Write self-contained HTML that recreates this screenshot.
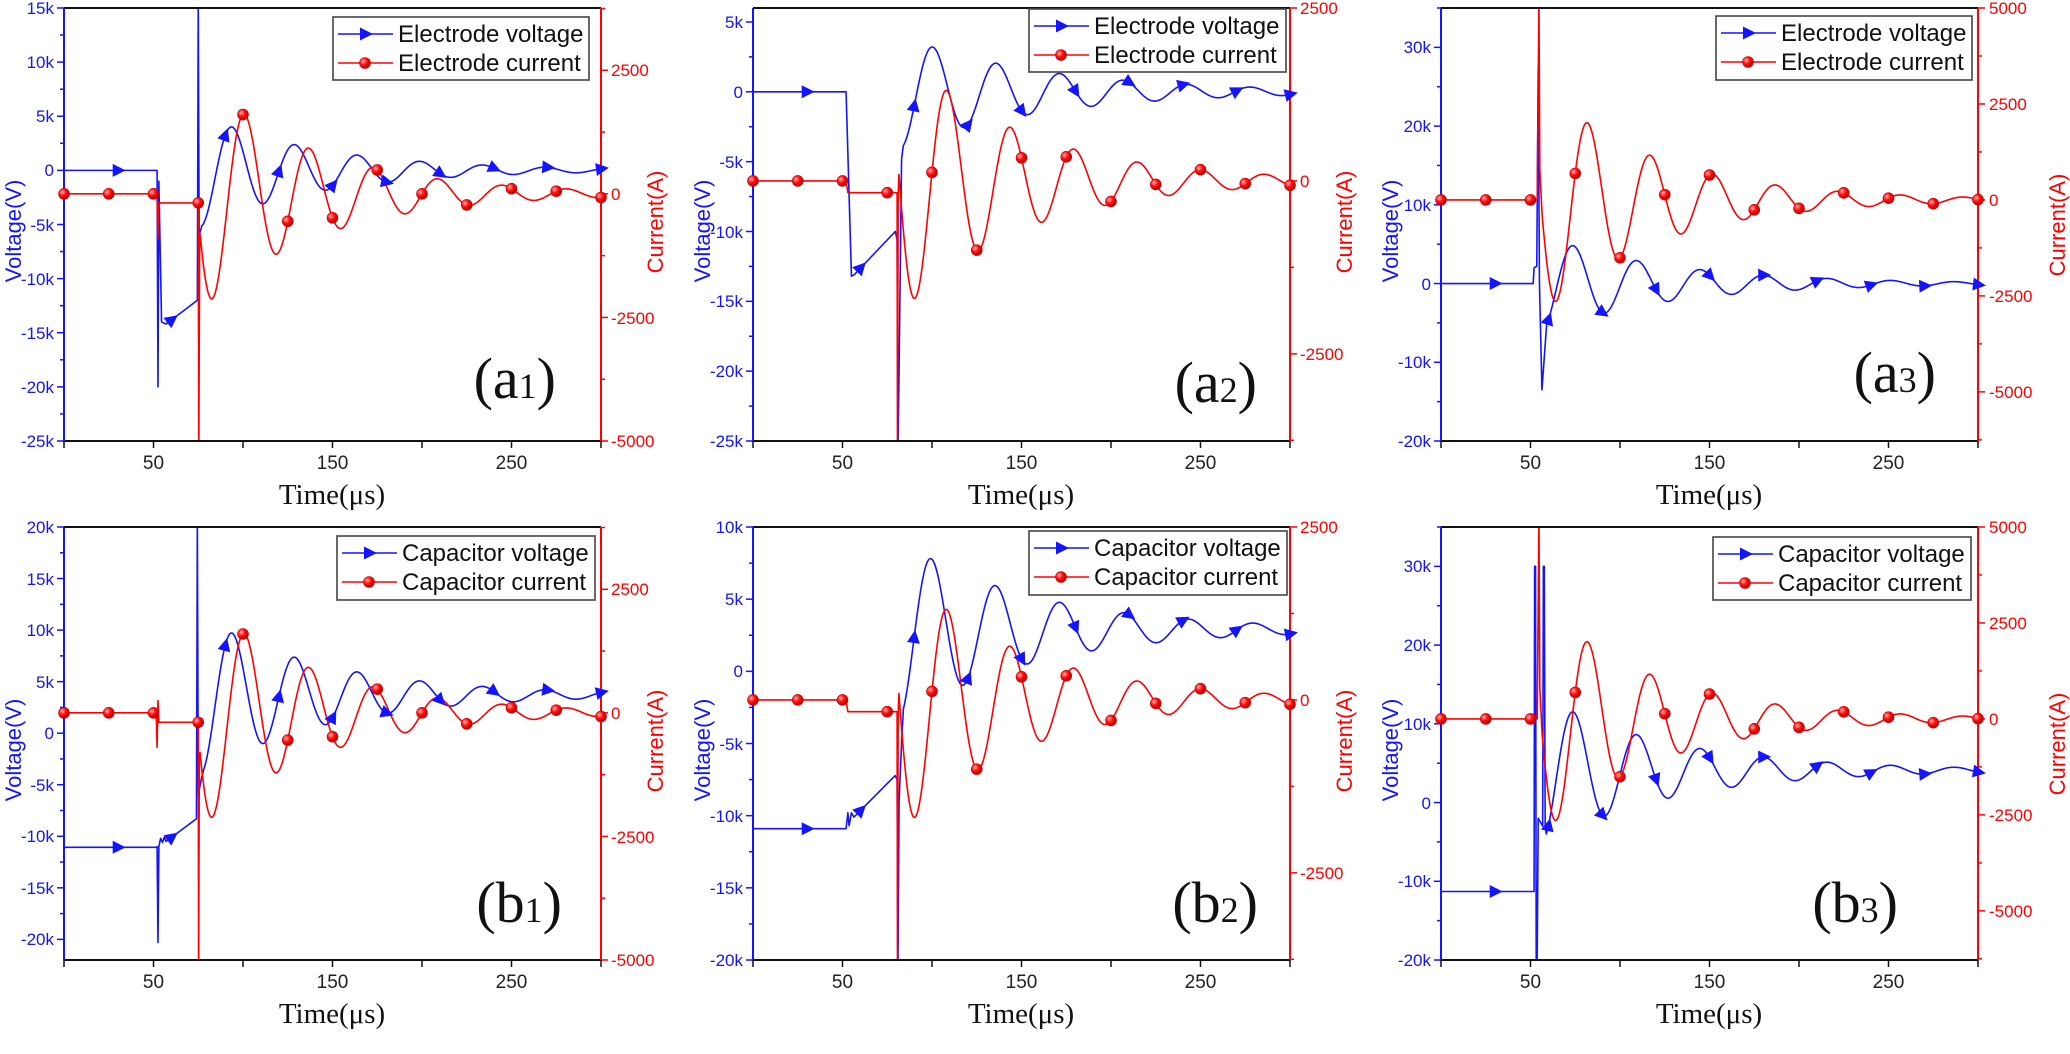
<!DOCTYPE html>
<html><head><meta charset="utf-8">
<style>
html,body{margin:0;padding:0;background:#fff;}
svg{display:block;}
text{font-family:"Liberation Sans",Arial,sans-serif;}
.lt{font-size:17px;fill:#1414ff;text-anchor:end;}
.rt{font-size:17px;fill:#ff0000;text-anchor:start;}
.bt{font-size:19px;fill:#222;text-anchor:middle;}
.tm{font-family:"Liberation Serif",serif;font-size:29px;fill:#111;text-anchor:middle;}
.vl{font-size:22px;fill:#1414ff;text-anchor:middle;}
.cl{font-size:22px;fill:#ff0000;text-anchor:middle;}
.lg{font-size:24px;fill:#111;}
.pl{font-family:"Liberation Serif",serif;font-size:58px;fill:#111;text-anchor:end;}
</style></head>
<body>
<svg id="s" width="2070" height="1054" viewBox="0 0 2070 1054" xmlns="http://www.w3.org/2000/svg">
<defs>
<radialGradient id="rb" cx="0.35" cy="0.35" r="0.7"><stop offset="0" stop-color="#ffb0b0"/><stop offset="0.45" stop-color="#ff1010"/><stop offset="1" stop-color="#b00000"/></radialGradient>
</defs>
<g id="g"></g>
<text class="lt" x="54" y="14">15k</text><text class="lt" x="54" y="68">10k</text><text class="lt" x="54" y="122">5k</text><text class="lt" x="54" y="176">0</text><text class="lt" x="54" y="231">-5k</text><text class="lt" x="54" y="285">-10k</text><text class="lt" x="54" y="339">-15k</text><text class="lt" x="54" y="393">-20k</text><text class="lt" x="54" y="447">-25k</text>
<text class="lt" x="743" y="28">5k</text><text class="lt" x="743" y="98">0</text><text class="lt" x="743" y="168">-5k</text><text class="lt" x="743" y="238">-10k</text><text class="lt" x="743" y="307">-15k</text><text class="lt" x="743" y="377">-20k</text><text class="lt" x="743" y="447">-25k</text>
<text class="lt" x="1431" y="53">30k</text><text class="lt" x="1431" y="132">20k</text><text class="lt" x="1431" y="211">10k</text><text class="lt" x="1431" y="290">0</text><text class="lt" x="1431" y="368">-10k</text><text class="lt" x="1431" y="447">-20k</text>
<text class="lt" x="54" y="533">20k</text><text class="lt" x="54" y="585">15k</text><text class="lt" x="54" y="636">10k</text><text class="lt" x="54" y="688">5k</text><text class="lt" x="54" y="739">0</text><text class="lt" x="54" y="791">-5k</text><text class="lt" x="54" y="842">-10k</text><text class="lt" x="54" y="894">-15k</text><text class="lt" x="54" y="945">-20k</text>
<text class="lt" x="743" y="533">10k</text><text class="lt" x="743" y="605">5k</text><text class="lt" x="743" y="677">0</text><text class="lt" x="743" y="750">-5k</text><text class="lt" x="743" y="822">-10k</text><text class="lt" x="743" y="894">-15k</text><text class="lt" x="743" y="966">-20k</text>
<text class="lt" x="1431" y="572">30k</text><text class="lt" x="1431" y="651">20k</text><text class="lt" x="1431" y="730">10k</text><text class="lt" x="1431" y="809">0</text><text class="lt" x="1431" y="887">-10k</text><text class="lt" x="1431" y="966">-20k</text>
<text class="rt" x="611" y="76">2500</text><text class="rt" x="611" y="200">0</text><text class="rt" x="611" y="324">-2500</text><text class="rt" x="611" y="447">-5000</text>
<text class="rt" x="1300" y="14">2500</text><text class="rt" x="1300" y="187">0</text><text class="rt" x="1300" y="360">-2500</text>
<text class="rt" x="1989" y="14">5000</text><text class="rt" x="1989" y="110">2500</text><text class="rt" x="1989" y="206">0</text><text class="rt" x="1989" y="302">-2500</text><text class="rt" x="1989" y="398">-5000</text>
<text class="rt" x="611" y="595">2500</text><text class="rt" x="611" y="719">0</text><text class="rt" x="611" y="843">-2500</text><text class="rt" x="611" y="966">-5000</text>
<text class="rt" x="1300" y="533">2500</text><text class="rt" x="1300" y="706">0</text><text class="rt" x="1300" y="879">-2500</text>
<text class="rt" x="1989" y="533">5000</text><text class="rt" x="1989" y="629">2500</text><text class="rt" x="1989" y="725">0</text><text class="rt" x="1989" y="821">-2500</text><text class="rt" x="1989" y="917">-5000</text>
<text class="bt" x="153.5" y="469">50</text><text class="bt" x="332.5" y="469">150</text><text class="bt" x="511.5" y="469">250</text>
<text class="bt" x="842.5" y="469">50</text><text class="bt" x="1021.5" y="469">150</text><text class="bt" x="1200.5" y="469">250</text>
<text class="bt" x="1530.5" y="469">50</text><text class="bt" x="1709.5" y="469">150</text><text class="bt" x="1888.5" y="469">250</text>
<text class="bt" x="153.5" y="988">50</text><text class="bt" x="332.5" y="988">150</text><text class="bt" x="511.5" y="988">250</text>
<text class="bt" x="842.5" y="988">50</text><text class="bt" x="1021.5" y="988">150</text><text class="bt" x="1200.5" y="988">250</text>
<text class="bt" x="1530.5" y="988">50</text><text class="bt" x="1709.5" y="988">150</text><text class="bt" x="1888.5" y="988">250</text>
<text class="tm" x="332" y="504">Time(μs)</text><text class="tm" x="1021" y="504">Time(μs)</text><text class="tm" x="1709" y="504">Time(μs)</text>
<text class="tm" x="332" y="1023">Time(μs)</text><text class="tm" x="1021" y="1023">Time(μs)</text><text class="tm" x="1709" y="1023">Time(μs)</text>
<text class="vl" transform="translate(21,231) rotate(-90)">Voltage(V)</text>
<text class="vl" transform="translate(710,231) rotate(-90)">Voltage(V)</text>
<text class="vl" transform="translate(1398,231) rotate(-90)">Voltage(V)</text>
<text class="vl" transform="translate(21,750) rotate(-90)">Voltage(V)</text>
<text class="vl" transform="translate(710,750) rotate(-90)">Voltage(V)</text>
<text class="vl" transform="translate(1398,750) rotate(-90)">Voltage(V)</text>
<text class="cl" transform="translate(663,222) rotate(-90)">Current(A)</text>
<text class="cl" transform="translate(1352,222) rotate(-90)">Current(A)</text>
<text class="cl" transform="translate(2065,225) rotate(-90)">Current(A)</text>
<text class="cl" transform="translate(663,741) rotate(-90)">Current(A)</text>
<text class="cl" transform="translate(1352,741) rotate(-90)">Current(A)</text>
<text class="cl" transform="translate(2065,744) rotate(-90)">Current(A)</text>
<g id="leg"></g>
<text class="lg" x="398" y="42">Electrode voltage</text><text class="lg" x="398" y="71">Electrode current</text>
<text class="lg" x="1094" y="34">Electrode voltage</text><text class="lg" x="1094" y="63">Electrode current</text>
<text class="lg" x="1781" y="41">Electrode voltage</text><text class="lg" x="1781" y="70">Electrode current</text>
<text class="lg" x="402" y="561">Capacitor voltage</text><text class="lg" x="402" y="590">Capacitor current</text>
<text class="lg" x="1094" y="556">Capacitor voltage</text><text class="lg" x="1094" y="585">Capacitor current</text>
<text class="lg" x="1778" y="562">Capacitor voltage</text><text class="lg" x="1778" y="591">Capacitor current</text>
<text class="pl" x="556" y="398">(a<tspan font-size="36">1</tspan>)</text>
<text class="pl" x="1257" y="402">(a<tspan font-size="36">2</tspan>)</text>
<text class="pl" x="1936" y="392">(a<tspan font-size="36">3</tspan>)</text>
<text class="pl" x="562" y="922">(b<tspan font-size="36">1</tspan>)</text>
<text class="pl" x="1258" y="922">(b<tspan font-size="36">2</tspan>)</text>
<text class="pl" x="1898" y="922">(b<tspan font-size="36">3</tspan>)</text>
</svg>
<script>
(function(){
const NS="http://www.w3.org/2000/svg";
const g=document.getElementById('g'), lg=document.getElementById('leg');
const W=537,H=433,cols=[64,753,1441],rows=[8,527];
const BL="#1414ff",RD="#ff0000";
function el(p,n,a){const e=document.createElementNS(NS,n);for(const k in a)e.setAttribute(k,a[k]);p.appendChild(e);return e;}
function S(){const p=[];return{p,add(t,v){p.push([t,v]);return this;},fn(a,b,f){for(let t=a;t<=b+1e-9;t+=0.25)p.push([t,f(t)]);return this;}};}
const ring=(tp,A,P,tau,off)=>t=>(off||0)+A*Math.exp(-(t-tp)/tau)*Math.cos(2*Math.PI*(t-tp)/P);
const lin=(t0,v0,t1,v1)=>t=>v0+(v1-v0)*(t-t0)/(t1-t0);
function interp(p,t){for(let i=p.length-1;i>0;i--){if(p[i-1][0]<=t&&p[i][0]>=t){const a=p[i-1],b=p[i];if(b[0]===a[0])return b[1];return a[1]+(b[1]-a[1])*(t-a[0])/(b[0]-a[0]);}}return p[p.length-1][1];}

const cur1=()=>{const s=S();s.fn(0,52,()=>0).add(52.5,-900).add(53,-183).fn(53.25,75,()=>-183).add(75.3,-5300).add(75.8,-800).fn(76,300,ring(101,1605,36,65));return s.p;};
const cur1b=()=>{const s=S();s.fn(0,51.5,()=>0).add(52,-700).add(52.5,250).add(53,-190).fn(53.25,75,()=>-190).add(75.2,-5300).add(75.6,-900).fn(76,300,ring(101,1595,36,65));return s.p;};
const cur2=()=>{const s=S();s.fn(0,52,()=>0).add(53,-170).fn(53.25,80.5,()=>-170).add(80.7,-3900).add(81.1,-200).fn(81.5,300,ring(108.4,1304,35.5,68));return s.p;};
const cur3=()=>{const s=S();s.fn(0,53.75,()=>0).add(54.3,3000).add(54.7,5300).add(55.2,800).fn(56.5,300,ring(82,2005,35,64));return s.p;};

const P=[
 {c:0,r:0,v:[-25000,15000],vm:5000,vn:2500,i:[-5000,3760],
  V:()=>{const s=S();s.fn(0,52,()=>0).add(52.5,-20000).add(53,-1000).add(54.5,-14000).add(57,-14200).fn(57.25,74.5,lin(57,-14200,74.5,-12000)).add(75,15800).add(75.5,-6000).fn(77,300,ring(94,4000,35,67));return s.p;},
  I:cur1, leg:[333,17,589,80]},
 {c:1,r:0,v:[-25000,6000],vm:5000,vn:2500,i:[-3760,2500],
  V:()=>{const s=S();s.fn(0,52,()=>0).add(55,-13200).add(56.5,-13100).fn(56.75,79.5,lin(56.5,-13100,79.5,-10000)).add(80.5,-10600).add(81,-25600).add(81.6,-20000).add(83,-4800).fn(84,300,ring(100.5,3200,35.5,79));return s.p;},
  I:cur2, leg:[1029,9,1286,72]},
 {c:2,r:0,v:[-20000,35000],vm:10000,vn:5000,i:[-6280,5000],
  V:()=>{const s=S();s.fn(0,51.5,()=>0).add(52,2000).add(53.5,2200).add(54.3,27500).add(55,0).add(56.4,-13500).fn(59,300,ring(74,4800,35.5,71));return s.p;},
  I:cur3, leg:[1716,16,1972,80]},
 {c:0,r:1,v:[-22000,20000],vm:5000,vn:2500,i:[-5000,3760],
  V:()=>{const s=S();s.fn(0,51.5,()=>-11070).add(52,-11000).add(52.5,-20300).add(53,-11000).add(54,-10200).add(55,-10600).add(56,-10100).add(57,-10500).fn(57.25,74,lin(57,-10500,74,-8300)).add(74.5,20800).add(75,-6000).add(77,-4200).fn(78,300,ring(94,6000,35,71,3700));return s.p;},
  I:cur1b, leg:[337,536,595,600]},
 {c:1,r:1,v:[-20000,10000],vm:5000,vn:2500,i:[-3760,2500],
  V:()=>{const s=S();s.fn(0,52,()=>-10900).add(53,-9800).add(53.7,-10700).add(55,-9800).add(56.4,-10100).fn(56.65,79.6,lin(56.4,-10100,79.6,-7200)).add(80.5,-7500).add(81,-20600).add(81.6,-9000).add(83,-5000).fn(84,300,ring(99.6,4900,36,75,2900));return s.p;},
  I:cur2, leg:[1029,531,1287,595]},
 {c:2,r:1,v:[-20000,35000],vm:10000,vn:5000,i:[-6280,5000],
  V:()=>{const s=S();s.fn(0,51.5,()=>-11300).add(52,-11300).add(52.3,30000).add(52.8,30000).add(53.2,-21000).add(53.7,-21000).add(54.3,-2000).add(56.8,-3000).add(57.2,30000).add(57.7,30000).add(58.2,-3000).add(58.8,-4000).fn(60,300,ring(74,7400,35.5,72,4100));return s.p;},
  I:cur3, leg:[1713,537,1971,600]}
];

function tri(parent,x,y,ang){const pts=[[8,0],[-5,-6.5],[-5,6.5]].map(([a,b])=>{const c=Math.cos(ang),s=Math.sin(ang);return (x+a*c-b*s).toFixed(1)+','+(y+a*s+b*c).toFixed(1);}).join(' ');el(parent,'polygon',{points:pts,fill:BL});}
function ball(parent,x,y){el(parent,'circle',{cx:x,cy:y,r:5.5,fill:'url(#rb)',stroke:'#d00000','stroke-width':0.6});}

P.forEach((p,k)=>{
 const X0=cols[p.c],Y0=rows[p.r],X1=X0+W,Y1=Y0+H;
 const X=t=>X0+t/300*W;
 const Yv=v=>Y0+(p.v[1]-v)/(p.v[1]-p.v[0])*H;
 const Yi=v=>Y0+(p.i[1]-v)/(p.i[1]-p.i[0])*H;
 const cid='c'+k;
 const cp=el(el(g,'defs',{}),'clipPath',{id:cid});el(cp,'rect',{x:X0,y:Y0,width:W,height:H});
 const tk=el(g,'g',{'stroke-width':1.5});
 for(let v=Math.ceil(p.v[0]/p.vn)*p.vn;v<=p.v[1];v+=p.vn){const maj=Math.abs(v%p.vm)<1;const y=Yv(v);el(tk,'line',{x1:X0,x2:X0-(maj?7:4),y1:y,y2:y,stroke:BL});}
 for(let v=Math.ceil(p.i[0]/1250)*1250;v<=p.i[1];v+=1250){const maj=Math.abs(v%2500)<1;const y=Yi(v);el(tk,'line',{x1:X1,x2:X1+(maj?7:4),y1:y,y2:y,stroke:RD});}
 for(let t=0;t<=300;t+=50){el(tk,'line',{x1:X(t),x2:X(t),y1:Y1,y2:Y1+7,stroke:'#111'});}
 const vp=p.V(),ip=p.I();
 const path=(pts,Y)=>'M'+pts.map(q=>X(q[0]).toFixed(2)+','+Math.max(Y0-20,Math.min(Y1+20,Y(q[1]))).toFixed(2)).join('L');
 el(g,'path',{d:path(vp,Yv),fill:'none',stroke:BL,'stroke-width':1.6,'clip-path':'url(#'+cid+')','stroke-linejoin':'round'});
 el(g,'path',{d:path(ip,Yi),fill:'none',stroke:RD,'stroke-width':1.6,'clip-path':'url(#'+cid+')','stroke-linejoin':'round'});
 el(g,'line',{x1:X0,x2:X1,y1:Y0,y2:Y0,stroke:'#111','stroke-width':2});
 el(g,'line',{x1:X0,x2:X1,y1:Y1,y2:Y1,stroke:'#111','stroke-width':2});
 el(g,'line',{x1:X0,x2:X0,y1:Y0,y2:Y1,stroke:BL,'stroke-width':2});
 el(g,'line',{x1:X1,x2:X1,y1:Y0,y2:Y1,stroke:RD,'stroke-width':2});
 for(let t=0;t<=300;t+=25){let y=Yi(interp(ip,t));y=Math.max(Y0,Math.min(Y1,y));ball(g,X(t),y);}
 for(let t=30;t<=300;t+=30){const y=Yv(interp(vp,t));const ya=Yv(interp(vp,Math.max(0,t-1))),yb=Yv(interp(vp,Math.min(300,t+1)));const xa=X(Math.max(0,t-1)),xb=X(Math.min(300,t+1));tri(g,X(t),Math.max(Y0,Math.min(Y1,y)),Math.atan2(yb-ya,xb-xa));}
 const [a,b,c,d]=p.leg;
 el(lg,'rect',{x:a,y:b,width:c-a,height:d-b,fill:'#fff',stroke:'#444','stroke-width':1.6});
 const l1=b+17,l2=b+46;
 el(lg,'line',{x1:a+5,x2:a+60,y1:l1,y2:l1,stroke:BL,'stroke-width':1.6});
 tri(lg,a+32,l1,0);
 el(lg,'line',{x1:a+5,x2:a+60,y1:l2,y2:l2,stroke:RD,'stroke-width':1.6});
 ball(lg,a+32,l2);
});
})();
</script>
</body></html>
